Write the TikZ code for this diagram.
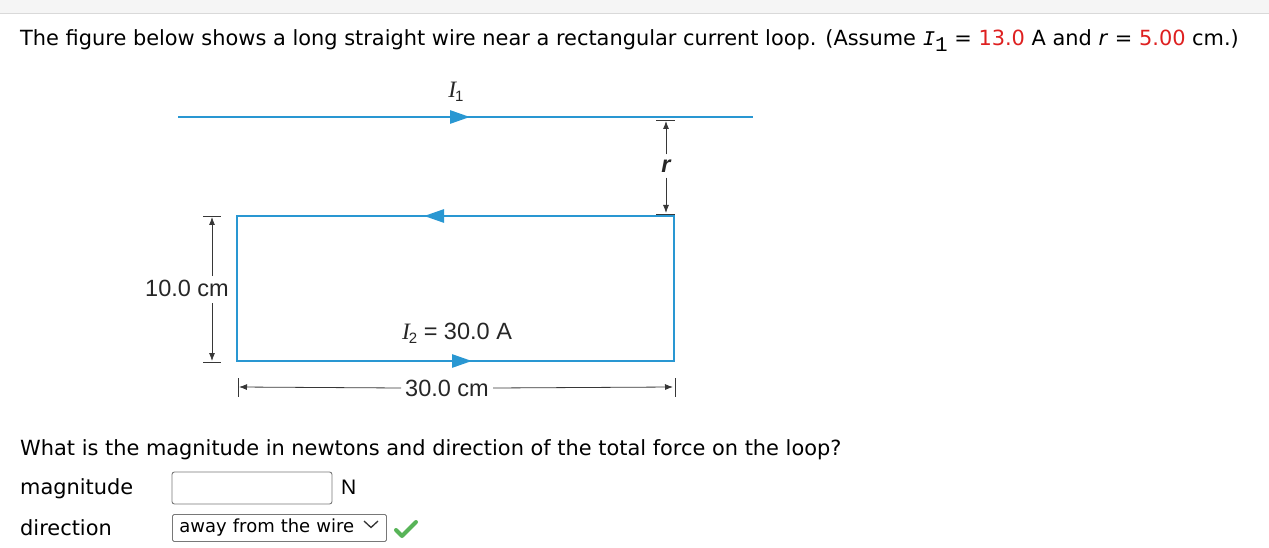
\documentclass[tikz,border=0pt]{standalone}
\usepackage{fontspec}
\setmainfont{DejaVu Sans}
\newfontfamily\figfont{Liberation Sans}
\newfontfamily\codefont{Liberation Mono}
\newfontfamily\symfont{Liberation Serif}
\usetikzlibrary{arrows.meta}

\definecolor{wireblue}{RGB}{41,151,210}
\definecolor{numred}{RGB}{222,32,32}
\definecolor{dimgray}{RGB}{55,55,55}
\definecolor{boxgray}{RGB}{120,120,120}
\definecolor{checkgreen}{RGB}{88,180,88}

\newcommand{\curr}[1]{{\symfont\itshape I}\kern-1pt\raisebox{-4pt}{\fontsize{15}{18}\selectfont #1}}

\tikzset{
	wire/.style={wireblue,line width=2.8pt},
	flow/.style={wireblue,line width=2.8pt,-{Triangle[length=20pt,width=13pt]}},
	dimline/.style={dimgray,line width=0.8pt,-{Latex[length=8pt,width=6pt]}},
	dimtick/.style={dimgray,line width=0.9pt},
	figlabel/.style={font=\figfont\fontsize{23.5}{28}\selectfont,text=black!85,inner sep=1pt},
	qtext/.style={anchor=base west,inner sep=0pt,font=\fontsize{20.9}{25}\selectfont},
	inputbox/.style={draw=boxgray,line width=0.9pt,rounded corners=2.5pt,minimum width=160pt,minimum height=32pt,inner sep=0pt},
	selectbox/.style={draw=boxgray,line width=0.9pt,rounded corners=1.5pt,minimum width=214pt,minimum height=27pt,inner xsep=3pt,inner ysep=4pt,font=\fontsize{18}{22}\selectfont,anchor=west,text width=200pt}
}

\begin{document}
\begin{tikzpicture}[x=1pt,y=-1pt]
	\useasboundingbox (0,0) rectangle (1269,548);
	\fill[black!4] (0,0) rectangle (1269,13);
	\draw[black!15] (0,13.5) -- (1269,13.5);

	\node[qtext] (intro) at (20,46) {The figure below shows a long straight wire near a rectangular current loop. (Assume {\codefont\itshape I}\raisebox{-6pt}{\codefont 1} = \textcolor{numred}{13.0} A and \textit{r} = \textcolor{numred}{5.00} cm.)};

	\coordinate (wireL) at (178,117);
	\coordinate (wireR) at (753,117);
	\draw[wire] (wireL) -- (wireR);
	\draw[flow] (449,117) -- (470,117);
	\node[figlabel] (Ione) at (456,92) {\curr{1}};

	\coordinate (loopTL) at (237,216);
	\coordinate (loopBR) at (674,361);
	\draw[wire] (loopTL) rectangle (loopBR);
	\draw[flow] (447,216) -- (424,216);
	\draw[flow] (449,361) -- (472,361);
	\node[figlabel] (Itwo) at (457,333) {\curr{2} = 30.0 A};

	\coordinate (rTop) at (666,121);
	\coordinate (rBot) at (666,213);
	\draw[dimtick] (656,120) -- (675,120);
	\draw[dimtick] (656,214) -- (675,214);
	\node[figlabel,font=\figfont\bfseries\itshape\fontsize{23.5}{28}\selectfont] (rlab) at (666,166) {r};
	\draw[dimline] (rlab.north) ++(0,-4) -- (rTop);
	\draw[dimline] (rlab.south) ++(0,4) -- (rBot);

	\coordinate (hTop) at (212,217);
	\coordinate (hBot) at (212,361);
	\draw[dimtick] (203,216) -- (221,216);
	\draw[dimtick] (203,362) -- (221,362);
	\node[figlabel] (hlab) at (187,288) {10.0 cm};
	\draw[dimline] (212,276) -- (hTop);
	\draw[dimline] (212,303) -- (hBot);

	\coordinate (wL) at (239,387);
	\coordinate (wR) at (673,387);
	\draw[dimtick] (238,378) -- (238,397);
	\draw[dimtick] (675,378) -- (675,397);
	\node[figlabel,inner xsep=4pt] (wlab) at (447,388) {30.0 cm};
	\draw[dimline] (wlab.west) -- (wL);
	\draw[dimline] (wlab.east) -- (wR);

	\node[qtext] (question) at (20,455) {What is the magnitude in newtons and direction of the total force on the loop?};
	\node[qtext] (maglab) at (20,494) {magnitude};
	\node[inputbox] (magbox) at (252,488) {};
	\node[qtext,font=\figfont\fontsize{21}{25}\selectfont] (unit) at (341,494) {N};
	\node[qtext] (dirlab) at (20,535) {direction};
	\node[selectbox] (dirbox) at (172,528) {away from the wire};
	\draw[black!80,line width=1.3pt] (364,521) -- (371,527.5) -- (378,521);
	\draw[checkgreen,line width=4pt,line cap=round,line join=round] (396,530) -- (402,536) -- (416,522);
\end{tikzpicture}
\end{document}
